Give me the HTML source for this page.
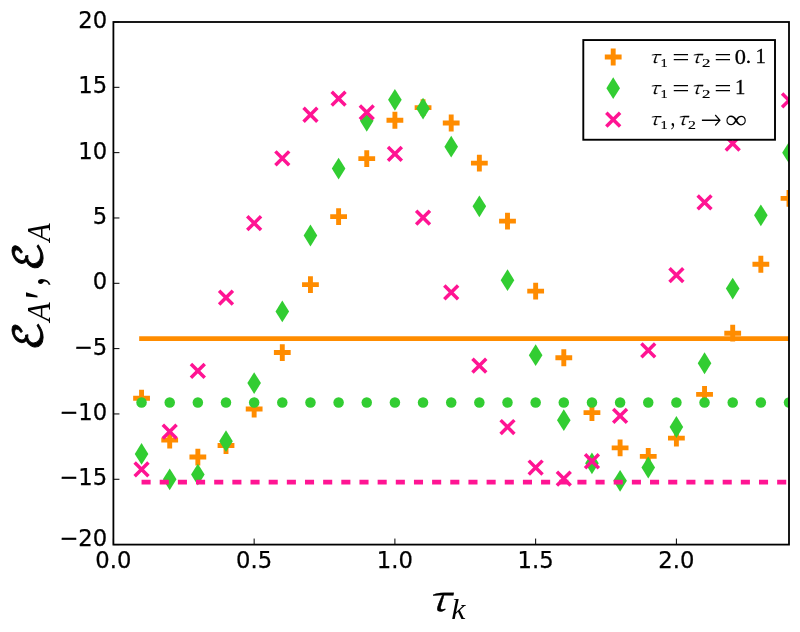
<!DOCTYPE html>
<html lang="en"><head><meta charset="utf-8"><title>Plot</title>
<style>html,body{margin:0;padding:0;background:#fff}svg{display:block}.t{font-family:"DejaVu Sans","Liberation Sans",sans-serif;font-size:22.7px;fill:#000;stroke:#000;stroke-width:0.25px}.m{font-family:"DejaVu Math TeX Gyre","DejaVu Serif","Liberation Serif",serif;fill:#000}</style></head><body>
<svg width="800" height="632" viewBox="0 0 800 632">
<rect width="800" height="632" fill="#fff"/>
<defs><clipPath id="ax"><rect x="113.4" y="22.0" width="675.60" height="522.60"/></clipPath></defs>
<g clip-path="url(#ax)">
<g stroke="#ff8c00" stroke-width="4.9" fill="none">
<path d="M133.15 398.27H149.95M141.55 389.87V406.67"/>
<path d="M161.30 440.08H178.10M169.70 431.68V448.48"/>
<path d="M189.45 457.06H206.25M197.85 448.66V465.46"/>
<path d="M217.60 445.57H234.40M226.00 437.17V453.97"/>
<path d="M245.75 408.99H262.55M254.15 400.59V417.39"/>
<path d="M273.90 352.54H290.70M282.30 344.14V360.94"/>
<path d="M302.05 284.61H318.85M310.45 276.21V293.01"/>
<path d="M330.20 216.67H347.00M338.60 208.27V225.07"/>
<path d="M358.35 158.66H375.15M366.75 150.26V167.06"/>
<path d="M386.50 120.25H403.30M394.90 111.85V128.65"/>
<path d="M414.65 107.58H431.45M423.05 99.18V115.98"/>
<path d="M442.80 122.99H459.60M451.20 114.59V131.39"/>
<path d="M470.95 163.10H487.75M479.35 154.70V171.50"/>
<path d="M499.10 221.11H515.90M507.50 212.71V229.51"/>
<path d="M527.25 291.14H544.05M535.65 282.74V299.54"/>
<path d="M555.40 357.77H572.20M563.80 349.37V366.17"/>
<path d="M583.55 412.64H600.35M591.95 404.24V421.04"/>
<path d="M611.70 447.92H628.50M620.10 439.52V456.32"/>
<path d="M639.85 456.41H656.65M648.25 448.01V464.81"/>
<path d="M668.00 438.12H684.80M676.40 429.72V446.52"/>
<path d="M696.15 394.35H712.95M704.55 385.95V402.75"/>
<path d="M724.30 333.21H741.10M732.70 324.81V341.61"/>
<path d="M752.45 264.23H769.25M760.85 255.83V272.63"/>
<path d="M780.60 198.38H797.40M789.00 189.98V206.78"/>
</g>
<path d="M141.55 338.63H789.00" stroke="#ff8c00" stroke-width="4.75" stroke-linecap="square" fill="none"/>
<g fill="#32cd32">
<path d="M141.55 443.03L148.35 453.93L141.55 464.83L134.75 453.93Z"/>
<path d="M169.70 468.38L176.50 479.28L169.70 490.18L162.90 479.28Z"/>
<path d="M197.85 463.67L204.65 474.57L197.85 485.47L191.05 474.57Z"/>
<path d="M226.00 430.23L232.80 441.13L226.00 452.03L219.20 441.13Z"/>
<path d="M254.15 372.22L260.95 383.12L254.15 394.02L247.35 383.12Z"/>
<path d="M282.30 300.49L289.10 311.39L282.30 322.29L275.50 311.39Z"/>
<path d="M310.45 224.58L317.25 235.48L310.45 246.38L303.65 235.48Z"/>
<path d="M338.60 157.69L345.40 168.59L338.60 179.49L331.80 168.59Z"/>
<path d="M366.75 109.87L373.55 120.77L366.75 131.67L359.95 120.77Z"/>
<path d="M394.90 88.97L401.70 99.87L394.90 110.77L388.10 99.87Z"/>
<path d="M423.05 97.72L429.85 108.62L423.05 119.52L416.25 108.62Z"/>
<path d="M451.20 135.74L458.00 146.64L451.20 157.54L444.40 146.64Z"/>
<path d="M479.35 195.45L486.15 206.35L479.35 217.25L472.55 206.35Z"/>
<path d="M507.50 269.26L514.30 280.16L507.50 291.06L500.70 280.16Z"/>
<path d="M535.65 344.26L542.45 355.16L535.65 366.06L528.85 355.16Z"/>
<path d="M563.80 409.32L570.60 420.22L563.80 431.12L557.00 420.22Z"/>
<path d="M591.95 452.44L598.75 463.34L591.95 474.24L585.15 463.34Z"/>
<path d="M620.10 469.94L626.90 480.84L620.10 491.74L613.30 480.84Z"/>
<path d="M648.25 456.62L655.05 467.52L648.25 478.42L641.45 467.52Z"/>
<path d="M676.40 416.12L683.20 427.01L676.40 437.91L669.60 427.01Z"/>
<path d="M704.55 352.36L711.35 363.26L704.55 374.16L697.75 363.26Z"/>
<path d="M732.70 277.63L739.50 288.53L732.70 299.43L725.90 288.53Z"/>
<path d="M760.85 204.46L767.65 215.36L760.85 226.26L754.05 215.36Z"/>
<path d="M789.00 141.75L795.80 152.65L789.00 163.55L782.20 152.65Z"/>
<circle cx="141.55" cy="402.45" r="5.25"/>
<circle cx="169.70" cy="402.45" r="5.25"/>
<circle cx="197.85" cy="402.45" r="5.25"/>
<circle cx="226.00" cy="402.45" r="5.25"/>
<circle cx="254.15" cy="402.45" r="5.25"/>
<circle cx="282.30" cy="402.45" r="5.25"/>
<circle cx="310.45" cy="402.45" r="5.25"/>
<circle cx="338.60" cy="402.45" r="5.25"/>
<circle cx="366.75" cy="402.45" r="5.25"/>
<circle cx="394.90" cy="402.45" r="5.25"/>
<circle cx="423.05" cy="402.45" r="5.25"/>
<circle cx="451.20" cy="402.45" r="5.25"/>
<circle cx="479.35" cy="402.45" r="5.25"/>
<circle cx="507.50" cy="402.45" r="5.25"/>
<circle cx="535.65" cy="402.45" r="5.25"/>
<circle cx="563.80" cy="402.45" r="5.25"/>
<circle cx="591.95" cy="402.45" r="5.25"/>
<circle cx="620.10" cy="402.45" r="5.25"/>
<circle cx="648.25" cy="402.45" r="5.25"/>
<circle cx="676.40" cy="402.45" r="5.25"/>
<circle cx="704.55" cy="402.45" r="5.25"/>
<circle cx="732.70" cy="402.45" r="5.25"/>
<circle cx="760.85" cy="402.45" r="5.25"/>
<circle cx="789.00" cy="402.45" r="5.25"/>
</g>
<g stroke="#ff1493" stroke-width="3.5" fill="none">
<path d="M134.65 462.45L148.45 476.25M134.65 476.25L148.45 462.45"/>
<path d="M162.80 424.69L176.60 438.49M162.80 438.49L176.60 424.69"/>
<path d="M190.95 363.94L204.75 377.74M190.95 377.74L204.75 363.94"/>
<path d="M219.10 290.77L232.90 304.57M219.10 304.57L232.90 290.77"/>
<path d="M247.25 216.30L261.05 230.10M247.25 230.10L261.05 216.30"/>
<path d="M275.40 151.37L289.20 165.17M275.40 165.17L289.20 151.37"/>
<path d="M303.55 107.86L317.35 121.66M303.55 121.66L317.35 107.86"/>
<path d="M331.70 91.66L345.50 105.46M331.70 105.46L345.50 91.66"/>
<path d="M359.85 105.51L373.65 119.31M359.85 119.31L373.65 105.51"/>
<path d="M388.00 147.06L401.80 160.86M388.00 160.86L401.80 147.06"/>
<path d="M416.15 210.68L429.95 224.48M416.15 224.48L429.95 210.68"/>
<path d="M444.30 285.55L458.10 299.35M444.30 299.35L458.10 285.55"/>
<path d="M472.45 358.71L486.25 372.51M472.45 372.51L486.25 358.71"/>
<path d="M500.60 420.12L514.40 433.91M500.60 433.91L514.40 420.12"/>
<path d="M528.75 460.62L542.55 474.42M528.75 474.42L542.55 460.62"/>
<path d="M556.90 471.72L570.70 485.52M556.90 485.52L570.70 471.72"/>
<path d="M585.05 454.35L598.85 468.15M585.05 468.15L598.85 454.35"/>
<path d="M613.20 409.01L627.00 422.81M613.20 422.81L627.00 409.01"/>
<path d="M641.35 343.55L655.15 357.35M641.35 357.35L655.15 343.55"/>
<path d="M669.50 268.17L683.30 281.97M669.50 281.97L683.30 268.17"/>
<path d="M697.65 195.40L711.45 209.20M697.65 209.20L711.45 195.40"/>
<path d="M725.80 136.60L739.60 150.40M725.80 150.40L739.60 136.60"/>
<path d="M753.95 100.02L767.75 113.82M753.95 113.82L767.75 100.02"/>
<path d="M782.10 93.49L795.90 107.29M782.10 107.29L795.90 93.49"/>
</g>
<path d="M141.55 482.15H789.00" stroke="#ff1493" stroke-width="4.6" stroke-dasharray="9.08 9.08" fill="none"/>
</g>
<g stroke="#000" stroke-width="1" fill="none">
<path d="M113.40 544.6v-6.05"/>
<path d="M254.15 544.6v-6.05"/>
<path d="M394.90 544.6v-6.05"/>
<path d="M535.65 544.6v-6.05"/>
<path d="M676.40 544.6v-6.05"/>
<path d="M113.4 544.60h6.05"/>
<path d="M113.4 479.28h6.05"/>
<path d="M113.4 413.95h6.05"/>
<path d="M113.4 348.62h6.05"/>
<path d="M113.4 283.30h6.05"/>
<path d="M113.4 217.98h6.05"/>
<path d="M113.4 152.65h6.05"/>
<path d="M113.4 87.32h6.05"/>
<path d="M113.4 22.00h6.05"/>
</g>
<rect x="113.4" y="22.0" width="675.60" height="522.60" fill="none" stroke="#000" stroke-width="1.8"/>
<text class="t" x="113.40" y="568.3" text-anchor="middle">0.0</text>
<text class="t" x="254.15" y="568.3" text-anchor="middle">0.5</text>
<text class="t" x="394.90" y="568.3" text-anchor="middle">1.0</text>
<text class="t" x="535.65" y="568.3" text-anchor="middle">1.5</text>
<text class="t" x="676.40" y="568.3" text-anchor="middle">2.0</text>
<text class="t" x="107.2" y="545.80" text-anchor="end">−20</text>
<text class="t" x="107.2" y="485.28" text-anchor="end">−15</text>
<text class="t" x="107.2" y="419.95" text-anchor="end">−10</text>
<text class="t" x="107.2" y="354.62" text-anchor="end">−5</text>
<text class="t" x="107.2" y="289.30" text-anchor="end">0</text>
<text class="t" x="107.2" y="223.98" text-anchor="end">5</text>
<text class="t" x="107.2" y="158.65" text-anchor="end">10</text>
<text class="t" x="107.2" y="93.32" text-anchor="end">15</text>
<text class="t" x="107.2" y="28.00" text-anchor="end">20</text>
<rect x="583.3" y="40.05" width="191.7" height="99.7" fill="#fff" stroke="#000" stroke-width="1.9"/>
<path d="M604.80 57.00H621.60M613.20 48.60V65.40" stroke="#ff8c00" stroke-width="4.9" fill="none"/>
<path d="M613.20 77.30L620.00 88.20L613.20 99.10L606.40 88.20Z" fill="#32cd32"/>
<path d="M606.30 112.70L620.10 126.50M606.30 126.50L620.10 112.70" stroke="#ff1493" stroke-width="3.5" fill="none"/>
<text transform="translate(649.32 63.09) scale(0.2012 0.1748)" font-size="100" style="font-family:'Noto Serif CJK SC','DejaVu Serif',serif;font-style:italic;stroke:#000;stroke-width:1.0;stroke-linejoin:round;">τ</text>
<text transform="translate(660.57 66.70) scale(0.1447 0.1349)" font-size="100" style="font-family:'Liberation Serif','DejaVu Serif',serif;;stroke:#000;stroke-width:1.5;stroke-linejoin:round;">1</text>
<text transform="translate(649.32 94.09) scale(0.2012 0.1748)" font-size="100" style="font-family:'Noto Serif CJK SC','DejaVu Serif',serif;font-style:italic;stroke:#000;stroke-width:1.0;stroke-linejoin:round;">τ</text>
<text transform="translate(660.57 97.70) scale(0.1447 0.1349)" font-size="100" style="font-family:'Liberation Serif','DejaVu Serif',serif;;stroke:#000;stroke-width:1.5;stroke-linejoin:round;">1</text>
<text transform="translate(649.32 125.09) scale(0.2012 0.1748)" font-size="100" style="font-family:'Noto Serif CJK SC','DejaVu Serif',serif;font-style:italic;stroke:#000;stroke-width:1.0;stroke-linejoin:round;">τ</text>
<text transform="translate(660.57 128.70) scale(0.1447 0.1349)" font-size="100" style="font-family:'Liberation Serif','DejaVu Serif',serif;;stroke:#000;stroke-width:1.5;stroke-linejoin:round;">1</text>
<text transform="translate(672.23 65.39) scale(0.3062 0.2240)" font-size="100" style="font-family:'Liberation Serif','DejaVu Serif',serif;">=</text>
<text transform="translate(691.13 63.09) scale(0.1979 0.1748)" font-size="100" style="font-family:'Noto Serif CJK SC','DejaVu Serif',serif;font-style:italic;stroke:#000;stroke-width:1.0;stroke-linejoin:round;">τ</text>
<text transform="translate(702.01 66.70) scale(0.1677 0.1339)" font-size="100" style="font-family:'Liberation Serif','DejaVu Serif',serif;;stroke:#000;stroke-width:1.5;stroke-linejoin:round;">2</text>
<text transform="translate(714.23 65.39) scale(0.3062 0.2240)" font-size="100" style="font-family:'Liberation Serif','DejaVu Serif',serif;">=</text>
<text transform="translate(672.23 96.39) scale(0.3062 0.2240)" font-size="100" style="font-family:'Liberation Serif','DejaVu Serif',serif;">=</text>
<text transform="translate(691.13 94.09) scale(0.1979 0.1748)" font-size="100" style="font-family:'Noto Serif CJK SC','DejaVu Serif',serif;font-style:italic;stroke:#000;stroke-width:1.0;stroke-linejoin:round;">τ</text>
<text transform="translate(702.01 97.70) scale(0.1677 0.1339)" font-size="100" style="font-family:'Liberation Serif','DejaVu Serif',serif;;stroke:#000;stroke-width:1.5;stroke-linejoin:round;">2</text>
<text transform="translate(714.23 96.39) scale(0.3062 0.2240)" font-size="100" style="font-family:'Liberation Serif','DejaVu Serif',serif;">=</text>
<text transform="translate(734.71 63.63) scale(0.2244 0.2087)" font-size="100" style="font-family:'Liberation Serif','DejaVu Serif',serif;;stroke:#000;stroke-width:1.5;stroke-linejoin:round;">0</text>
<text transform="translate(745.73 63.42) scale(0.2133 0.1846)" font-size="100" style="font-family:'Liberation Serif','DejaVu Serif',serif;;stroke:#000;stroke-width:1.5;stroke-linejoin:round;">.</text>
<text transform="translate(755.48 63.44) scale(0.2082 0.2113)" font-size="100" style="font-family:'Liberation Serif','DejaVu Serif',serif;;stroke:#000;stroke-width:1.5;stroke-linejoin:round;">1</text>
<text transform="translate(734.92 94.44) scale(0.2082 0.2113)" font-size="100" style="font-family:'Liberation Serif','DejaVu Serif',serif;;stroke:#000;stroke-width:1.5;stroke-linejoin:round;">1</text>
<text transform="translate(670.43 125.84) scale(0.1931 0.2510)" font-size="100" style="font-family:'Liberation Serif','DejaVu Serif',serif;">,</text>
<text transform="translate(677.13 125.09) scale(0.1979 0.1748)" font-size="100" style="font-family:'Noto Serif CJK SC','DejaVu Serif',serif;font-style:italic;stroke:#000;stroke-width:1.0;stroke-linejoin:round;">τ</text>
<text transform="translate(688.05 128.70) scale(0.1581 0.1339)" font-size="100" style="font-family:'Liberation Serif','DejaVu Serif',serif;;stroke:#000;stroke-width:1.5;stroke-linejoin:round;">2</text>
<text transform="translate(700.23 129.13) scale(0.2553 0.2860)" font-size="100" style="font-family:'DejaVu Sans','Liberation Sans',sans-serif;font-weight:200;">→</text>
<text transform="translate(725.17 128.43) scale(0.3087 0.2589)" font-size="100" style="font-family:'Liberation Serif','DejaVu Serif',serif;">∞</text>
<text transform="translate(427.56 610.55) scale(0.4351 0.3509)" font-size="100" style="font-family:'Noto Serif CJK SC','DejaVu Serif',serif;font-style:italic;stroke:#000;stroke-width:1.0;stroke-linejoin:round;">τ</text>
<text transform="translate(451.24 618.60) scale(0.3186 0.2986)" font-size="100" style="font-family:'Liberation Serif','DejaVu Serif',serif;font-style:italic;">k</text>
<text transform="translate(42.49 350.58) rotate(-90) scale(0.4312 0.3929)" font-size="100" style="font-family:'DejaVu Math TeX Gyre','DejaVu Serif',serif;;stroke:#000;stroke-width:2.2;stroke-linejoin:round;">ℰ</text>
<text transform="translate(50.40 321.48) rotate(-90) scale(0.3134 0.3389)" font-size="100" style="font-family:'Liberation Serif','DejaVu Serif',serif;font-style:italic;">A</text>
<text transform="translate(57.62 299.62) rotate(-90) scale(0.4250 0.4766)" font-size="100" style="font-family:'Liberation Serif','DejaVu Serif',serif;">′</text>
<text transform="translate(43.19 286.14) rotate(-90) scale(0.3862 0.4941)" font-size="100" style="font-family:'Liberation Serif','DejaVu Serif',serif;">,</text>
<text transform="translate(42.49 271.18) rotate(-90) scale(0.4312 0.3929)" font-size="100" style="font-family:'DejaVu Math TeX Gyre','DejaVu Serif',serif;;stroke:#000;stroke-width:2.2;stroke-linejoin:round;">ℰ</text>
<text transform="translate(50.40 241.47) rotate(-90) scale(0.2970 0.3405)" font-size="100" style="font-family:'Liberation Serif','DejaVu Serif',serif;font-style:italic;">A</text>
</svg></body></html>
